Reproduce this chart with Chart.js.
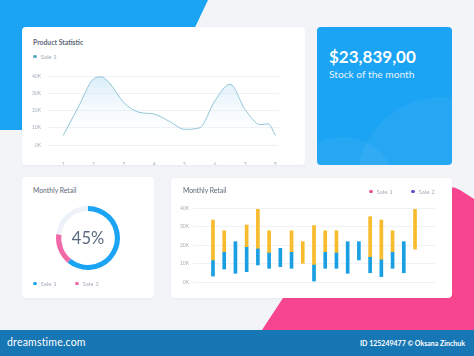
<!DOCTYPE html>
<html>
<head>
<meta charset="utf-8">
<script src="https://cdn.jsdelivr.net/npm/chart.js@4"></script>
<style>
  html, body { margin: 0; padding: 0; }
  body {
    width: 474px; height: 356px; position: relative; overflow: hidden;
    background: #f2f4f8; font-family: Lato, "Open Sans", sans-serif;
  }
  .abs { position: absolute; }
  .card { position: absolute; background: #fff; border-radius: 4px; box-shadow: 0 1px 3px rgba(40, 60, 90, 0.05); }
  .title { position: absolute; font-size: 6.8px; font-weight: 700; color: #5d6778; white-space: nowrap; }
  .legend { position: absolute; font-size: 6.2px; color: #a8b0bc; white-space: nowrap; }
  .dot { display: inline-block; width: 3.5px; height: 3.5px; border-radius: 50%; margin-right: 4px; vertical-align: middle; position: relative; top: -1px; }
  canvas { position: absolute; }
  .stat { position: absolute; left: 317px; top: 27px; width: 135px; height: 138px; background: #1ba3f4; border-radius: 4px; overflow: hidden; }
  .circle { position: absolute; border-radius: 50%; background: rgba(255,255,255,0.05); }
  .footer { position: absolute; left: 0; top: 330px; width: 474px; height: 26px; background: #1776b4; color: #fff; }
</style>
</head>
<body>
<svg class="abs" style="left:0;top:0" width="474" height="356">
  <path d="M0,0 H208 L170,80 Q150,128 110,130 H0 Z" fill="#1ba3f4"/>
  <path d="M262,330 L300,272 L440,190 Q450,184 460,190 L474,199 V330 Z" fill="#f7468f"/>
</svg>

<div class="card" style="left:22px;top:27px;width:283px;height:138px"></div>
<div class="title" style="left:33px;top:38px">Product Statistic</div>
<div class="legend" style="left:33px;top:53px"><span class="dot" style="background:#5aa6c2"></span>Sale 1</div>
<canvas id="lineChart" width="259" height="99" style="left:26px;top:66px;width:259px;height:99px"></canvas>

<div class="stat">
  <div class="circle" style="left:40px;top:70px;width:170px;height:170px"></div>
  <div class="circle" style="left:-30px;top:110px;width:110px;height:110px"></div>
  <div class="abs" style="left:12px;top:19px;font-size:17px;font-weight:700;color:#fff;white-space:nowrap">$23,839,00</div>
  <div class="abs" style="left:12px;top:41px;font-size:10.2px;color:#e6f4ff;white-space:nowrap">Stock of the month</div>
</div>

<div class="card" style="left:22px;top:177px;width:132px;height:121px"></div>
<div class="title" style="left:33px;top:186px;font-weight:400">Monthly Retail</div>
<canvas id="donutChart" width="70" height="70" style="left:53px;top:203px;width:70px;height:70px"></canvas>
<div class="abs" style="left:53px;top:228px;width:70px;text-align:center;font-size:16.5px;color:#5b6a80;line-height:20px">45%</div>
<div class="legend" style="left:33px;top:280px"><span class="dot" style="background:#1ba3f4"></span>Sale 1</div>
<div class="legend" style="left:75px;top:280px"><span class="dot" style="background:#f06aa8"></span>Sale 2</div>

<div class="card" style="left:171px;top:178px;width:281px;height:120px"></div>
<div class="title" style="left:183px;top:186px;font-weight:400">Monthly Retail</div>
<div class="legend" style="left:369px;top:188px"><span class="dot" style="background:#e8508f"></span>Sale 1</div>
<div class="legend" style="left:411px;top:188px"><span class="dot" style="background:#5a4fc8"></span>Sale 2</div>
<canvas id="barChart" width="263" height="90" style="left:172px;top:200px;width:263px;height:90px"></canvas>

<div class="footer">
  <div class="abs" style="left:7px;top:6px;font-size:10.5px;letter-spacing:0.2px">dreamstime.com</div>
  <div class="abs" style="right:9px;top:9px;font-size:7px;font-weight:700">ID 125249477 © Oksana Zinchuk</div>
</div>

<script>
// Product Statistic (line) - x positions incl. half steps, values in K
const lineX = [1, 1.5, 2, 2.25, 2.5, 3, 3.5, 4, 4.5, 5, 5.5, 6, 6.5, 7, 7.5, 7.75, 8];
const lineValues = [5.5, 22, 38.3, 39.5, 36.5, 24.6, 19, 17.9, 13.7, 9.1, 10, 25.6, 35.2, 20.5, 11.8, 12.3, 5.5];
const lineXTicks = [1, 2, 3, 4, 5, 6, 7, 8];
const yTicks = [0, 10, 20, 30, 40];
const yTickLabels = ['0K', '10K', '20K', '30K', '40K'];

// Monthly Retail (doughnut)
const donutLabels = ['Sale 1', 'Sale 2', ''];
const donutValues = [61, 16, 23];

// Monthly Retail (floating bars) - low/high per column, null = no segment
const barX = [1, 2, 3, 4, 5, 6, 7, 8, 9, 10, 11, 12, 13, 14, 15, 16, 17, 18, 19];
const yellowLow  = [11.9, 16.4, null, 19.1, 18.2, 16.0, null, 16.4, 10.1, 9.5, 16.4, 16.0, null, null, 13.7, 12.3, 16.4, null, 17.8];
const yellowHigh = [33.5, 27.7, null, 30.8, 39.3, 27.7, null, 27.7, 21.8, 30.5, 27.7, 27.7, null, null, 35.3, 33.5, 27.7, null, 39.3];
const blueLow    = [3.2, 7.0, 4.7, 5.6, 9.2, 7.4, 8.3, 7.4, null, 0.5, 7.4, 7.4, 4.7, 11.9, 5.0, 2.9, 7.4, 5.0, null];
const blueHigh   = [11.9, 16.4, 21.8, 19.1, 18.2, 16.0, 18.2, 16.4, null, 9.5, 16.4, 16.0, 21.8, 21.8, 13.7, 12.3, 16.4, 21.8, null];

const tickFont = { family: 'Lato, sans-serif', size: 5 };
const tickColor = '#a7afba';
const gridColor = '#eef1f5';

function pairs(xs, lo, hi) {
    return xs.map((x, i) => ({ x: x, y: lo[i] === null ? null : [lo[i], hi[i]] }));
}

(function() {
    new Chart(document.getElementById('lineChart'), {
        type: 'line',
        data: {
            datasets: [{
                label: 'Sale 1',
                data: lineX.map((x, i) => ({ x: x, y: lineValues[i] })),
                borderColor: '#93c6d6',
                borderWidth: 1,
                pointRadius: 0,
                tension: 0.4,
                cubicInterpolationMode: 'monotone',
                fill: 'origin',
                backgroundColor: function(context) {
                    const chart = context.chart;
                    const area = chart.chartArea;
                    if (!area) return 'rgba(0,0,0,0)';
                    const g = chart.ctx.createLinearGradient(0, area.top, 0, area.bottom);
                    g.addColorStop(0, 'rgba(170, 215, 240, 0.45)');
                    g.addColorStop(1, 'rgba(255, 255, 255, 0)');
                    return g;
                }
            }]
        },
        options: {
            responsive: false,
            animation: false,
            devicePixelRatio: 1,
            layout: { padding: { top: 6, right: 0, bottom: 0, left: 0 } },
            plugins: { legend: { display: false }, tooltip: { enabled: false } },
            scales: {
                x: {
                    type: 'linear', min: 0.5, max: 8.1, offset: false,
                    grid: { display: false }, border: { display: false },
                    afterBuildTicks: s => { s.ticks = lineXTicks.map(v => ({ value: v })); },
                    afterFit: s => { s.height = 20; },
                    ticks: { font: tickFont, color: tickColor, padding: 8, maxRotation: 0,
                             callback: v => String(v) }
                },
                y: {
                    min: 0, max: 40,
                    grid: { color: gridColor, drawTicks: false }, border: { display: false },
                    afterBuildTicks: s => { s.ticks = yTicks.map(v => ({ value: v })); },
                    afterFit: s => { s.width = 22; },
                    ticks: { font: tickFont, color: tickColor, padding: 7,
                             callback: (v, i) => yTickLabels[i] }
                }
            }
        }
    });

    new Chart(document.getElementById('donutChart'), {
        type: 'doughnut',
        data: {
            labels: donutLabels,
            datasets: [{
                data: donutValues,
                backgroundColor: ['#1ba3f4', '#f06aa8', '#edf2f8'],
                borderWidth: 0
            }]
        },
        options: {
            responsive: false,
            animation: false,
            devicePixelRatio: 1,
            cutout: '84%',
            layout: { padding: 3 },
            plugins: { legend: { display: false }, tooltip: { enabled: false } }
        }
    });

    // thin floating bars, both series share the same column
    const barStyle = { barThickness: 3, maxBarThickness: 3, barPercentage: 0.6, categoryPercentage: 0.5, grouped: false, borderWidth: 0 };

    new Chart(document.getElementById('barChart'), {
        type: 'bar',
        data: {
            datasets: [Object.assign({
                label: 'Sale 1',
                data: pairs(barX, yellowLow, yellowHigh),
                backgroundColor: '#f8bb2e'
            }, barStyle), Object.assign({
                label: 'Sale 2',
                data: pairs(barX, blueLow, blueHigh),
                backgroundColor: '#1a9fe2'
            }, barStyle)]
        },
        options: {
            responsive: false,
            animation: false,
            devicePixelRatio: 1,
            layout: { padding: { top: 8, right: 0, bottom: 8, left: 0 } },
            plugins: { legend: { display: false }, tooltip: { enabled: false } },
            scales: {
                x: { type: 'linear', min: -0.78, max: 20.78, offset: false, display: false },
                y: {
                    min: 0, max: 40,
                    grid: { color: gridColor, drawTicks: false }, border: { display: false },
                    afterBuildTicks: s => { s.ticks = yTicks.map(v => ({ value: v })); },
                    afterFit: s => { s.width = 21; },
                    ticks: { font: tickFont, color: tickColor, padding: 4,
                             callback: (v, i) => yTickLabels[i] }
                }
            }
        }
    });
})();
</script>
</body>
</html>
